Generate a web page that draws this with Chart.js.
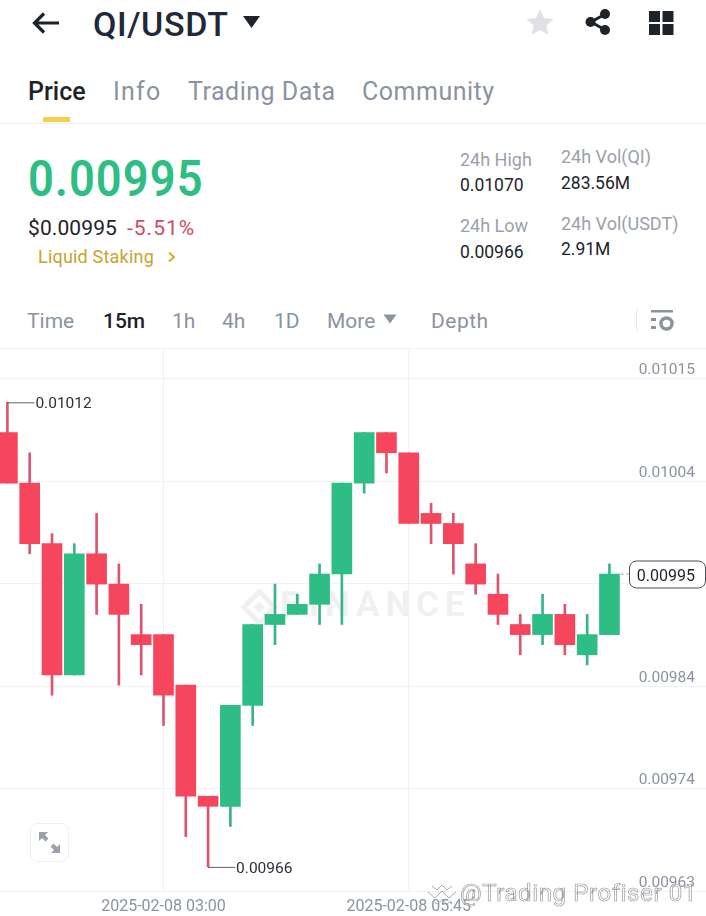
<!DOCTYPE html>
<html>
<head>
<meta charset="utf-8">
<script src="https://cdn.jsdelivr.net/npm/chart.js@4"></script>
<style>
  html, body { margin: 0; padding: 0; background: #fff; }
  body { position: relative; width: 706px; height: 916px; overflow: hidden; font-family: Roboto, sans-serif; color: #1e2329; }
  .t { position: absolute; white-space: nowrap; transform: translateY(-50%); line-height: 1; }
  .gray { color: #8a939f; letter-spacing: .5px; }
  .lab { color: #9aa1ab; font-size: 18px; }
  .val { color: #1e2329; font-size: 17.5px; }
  .tf { color: #8a939f; font-size: 21px; top: 321px; }
  .ico { position: absolute; display: block; }
  .rule { position: absolute; background: #f1f2f4; }
  #chartBox { position: absolute; left: 0; top: 349px; width: 706px; height: 567px; }
  #brand { position: absolute; left: 460px; top: 893px; transform: translateY(-50%); font-size: 24px; line-height: 1; white-space: nowrap;
           color: rgba(255,255,255,.55); -webkit-text-stroke: .7px #9a9a9a; letter-spacing: .6px; }
  #expand { position: absolute; left: 30px; top: 823px; width: 37px; height: 37px; border: 1.5px solid #eceef0; border-radius: 8px; background: #fff; }
</style>
</head>
<body>

<!-- top bar -->
<svg class="ico" style="left:30px;top:10px" width="32" height="26" viewBox="0 0 32 26"><path d="M29 13H5M14 3.5L4.5 13l9.5 9.5" fill="none" stroke="#1e2329" stroke-width="3.2"/></svg>
<div class="t" style="left:93px;top:24px;font-size:34px;font-weight:500;letter-spacing:.6px;color:#1e2a38">QI/USDT</div>
<svg class="ico" style="left:242px;top:15px" width="19" height="14"><path d="M1 1h17l-8.5 12z" fill="#1e2329"/></svg>
<svg class="ico" style="left:526px;top:8px" width="28" height="28" viewBox="0 0 28 28"><path d="M14 1l4 9 9.5 1-7 6.6 2 9.4L14 22l-8.500 5 2-9.400-7-6.600 9.500-1z" fill="#dfe1e5"/></svg>
<svg class="ico" style="left:584px;top:8px" width="28" height="28" viewBox="0 0 28 28"><path d="M20.500 6.500L7 14l13.500 7.500" fill="none" stroke="#1e2329" stroke-width="3"/><circle cx="21" cy="6" r="5" fill="#1e2329"/><circle cx="6.500" cy="14" r="5" fill="#1e2329"/><circle cx="21" cy="22" r="5" fill="#1e2329"/></svg>
<svg class="ico" style="left:649px;top:11px" width="25" height="24"><rect x="0" y="0" width="11" height="11" fill="#1e2329"/><rect x="13.500" y="0" width="11" height="11" fill="#1e2329"/><rect x="0" y="13" width="11" height="11" fill="#1e2329"/><rect x="13.500" y="13" width="11" height="11" fill="#1e2329"/></svg>

<!-- tabs -->
<div class="t" style="left:28px;top:91px;font-size:25px;font-weight:500;color:#1e2329">Price</div>
<div class="t gray" style="left:113px;top:91px;font-size:25px;letter-spacing:1.2px">Info</div>
<div class="t gray" style="left:188px;top:91px;font-size:25px">Trading Data</div>
<div class="t gray" style="left:362px;top:91px;font-size:25px">Community</div>
<div class="rule" style="left:43px;top:117px;width:27px;height:5px;background:#f6d24a"></div>
<div class="rule" style="left:0;top:123px;width:706px;height:1px"></div>

<!-- price block -->
<div class="t" style="left:28px;top:179px;font-size:50px;font-weight:600;letter-spacing:1.2px;color:#2ebd85;transform:translateY(-50%) scaleX(.905);transform-origin:left center">0.00995</div>
<div class="t" style="left:28px;top:228px;font-size:21px;letter-spacing:.1px;color:#1e2329">$0.00995</div>
<div class="t" style="left:127px;top:228px;font-size:21px;letter-spacing:1px;color:#cf4a63">-5.51%</div>
<div class="t" style="left:38px;top:257px;font-size:18px;letter-spacing:.2px;color:#c9a32c">Liquid Staking</div>
<svg class="ico" style="left:167px;top:251px" width="10" height="12"><path d="M2 1.500L7 6l-5 4.500" fill="none" stroke="#d4ad2c" stroke-width="2"/></svg>

<div class="t lab" style="left:460px;top:160px">24h High</div>
<div class="t val" style="left:460px;top:186px">0.01070</div>
<div class="t lab" style="left:561px;top:157px">24h Vol(QI)</div>
<div class="t val" style="left:561px;top:184px">283.56M</div>
<div class="t lab" style="left:460px;top:226px">24h Low</div>
<div class="t val" style="left:460px;top:253px">0.00966</div>
<div class="t lab" style="left:561px;top:224px">24h Vol(USDT)</div>
<div class="t val" style="left:561px;top:250px">2.91M</div>

<!-- timeframe row -->
<div class="t tf" style="left:27px">Time</div>
<div class="t tf" style="left:103px;color:#1e2329;font-weight:500">15m</div>
<div class="t tf" style="left:172px">1h</div>
<div class="t tf" style="left:222px">4h</div>
<div class="t tf" style="left:274px">1D</div>
<div class="t tf" style="left:327px">More</div>
<svg class="ico" style="left:383px;top:314px" width="14" height="10"><path d="M0.500 0.500h13l-6.500 9z" fill="#8a939f"/></svg>
<div class="t tf" style="left:431px;letter-spacing:.5px">Depth</div>
<div class="rule" style="left:636px;top:309px;width:1px;height:22px;background:#e6e8ea"></div>
<svg class="ico" style="left:651px;top:310px" width="23" height="22" viewBox="0 0 23 22"><rect x="0" y="0" width="22" height="2.500" fill="#8a939f"/><rect x="0" y="8" width="5" height="3" fill="#8a939f"/><rect x="0" y="16" width="5" height="3" fill="#8a939f"/><circle cx="15.500" cy="13.500" r="5.500" fill="none" stroke="#8a939f" stroke-width="3.500"/></svg>
<div class="rule" style="left:0;top:348px;width:706px;height:1px"></div>

<!-- chart -->
<div id="chartBox"><canvas id="candles" width="706" height="567"></canvas></div>

<div id="expand">
  <svg width="37" height="37" viewBox="0 0 37 37"><path d="M8 8h9l-3 3 3.500 3.500-3 3L11 14l-3 3zM29 29h-9l3-3-3.500-3.500 3-3L26 23l3-3z" fill="#9aa1ab"/></svg>
</div>

<svg class="ico" style="left:427px;top:883px" width="30" height="22" viewBox="0 0 30 22"><path d="M1 9l7 6 7-7 7 7 7-6M5 3l5 4 5-5 5 5 5-4M6 18l4 3 5-4 5 4 4-3" fill="none" stroke="#a8a8a8" stroke-width="1"/></svg>
<div id="brand">@Trading Profiser 01</div>

<script>
// 15m candles, oldest first
const times = [
  "2025-02-08 01:15", "2025-02-08 01:30", "2025-02-08 01:45", "2025-02-08 02:00",
  "2025-02-08 02:15", "2025-02-08 02:30", "2025-02-08 02:45", "2025-02-08 03:00",
  "2025-02-08 03:15", "2025-02-08 03:30", "2025-02-08 03:45", "2025-02-08 04:00",
  "2025-02-08 04:15", "2025-02-08 04:30", "2025-02-08 04:45", "2025-02-08 05:00",
  "2025-02-08 05:15", "2025-02-08 05:30", "2025-02-08 05:45", "2025-02-08 06:00",
  "2025-02-08 06:15", "2025-02-08 06:30", "2025-02-08 06:45", "2025-02-08 07:00",
  "2025-02-08 07:15", "2025-02-08 07:30", "2025-02-08 07:45", "2025-02-08 08:00"
]
const opens = [0.01009, 0.01004, 0.00998, 0.00985, 0.00997, 0.00994, 0.00989, 0.00989, 0.00984, 0.00973, 0.00972, 0.00982, 0.00990, 0.00991,
  0.00992, 0.00995, 0.01004, 0.01009, 0.01007, 0.01001, 0.01000, 0.00996, 0.00993, 0.00990, 0.00989, 0.00991, 0.00987, 0.00989]
const highs = [0.01012, 0.01007, 0.00999, 0.00998, 0.01001, 0.00996, 0.00992, 0.00989, 0.00984, 0.00973, 0.00982, 0.00990, 0.00994, 0.00993,
  0.00996, 0.01004, 0.01009, 0.01009, 0.01007, 0.01002, 0.01001, 0.00998, 0.00995, 0.00991, 0.00993, 0.00992, 0.00991, 0.00996]
const lows = [0.01004, 0.00997, 0.00983, 0.00985, 0.00991, 0.00984, 0.00985, 0.00980, 0.00969, 0.00966, 0.00970, 0.00980, 0.00988, 0.00991,
  0.00990, 0.00990, 0.01003, 0.01005, 0.01000, 0.00998, 0.00995, 0.00993, 0.00990, 0.00987, 0.00988, 0.00987, 0.00986, 0.00989]
const closes = [0.01004, 0.00998, 0.00985, 0.00997, 0.00994, 0.00991, 0.00988, 0.00983, 0.00973, 0.00972, 0.00982, 0.00990, 0.00991, 0.00992,
  0.00995, 0.01004, 0.01009, 0.01007, 0.01000, 0.01000, 0.00998, 0.00994, 0.00991, 0.00989, 0.00991, 0.00988, 0.00989, 0.00995]

const yTickValues = [0.010144, 0.010042, 0.009941, 0.009839, 0.009738, 0.009636]
const yTickLabels = ["0.01015", "0.01004", "", "0.00984", "0.00974", "0.00963"]
const xTickIndexes = [7, 18]
const lastPrice = "0.00995"

const GREEN = "#2ebd85"
const RED = "#f6465d"
const candleColor = (i) => (closes[i] >= opens[i] ? GREEN : RED)
const wickColor = (i) => (closes[i] >= opens[i] ? "#38b48a" : "#dc5470")

// high / low callouts, last price tag, faint exchange mark
const overlayPlugin = {
  id: "overlay",
  beforeDatasetsDraw(chart) {
    const { ctx, scales } = chart
    const mx = scales.x.getPixelForValue(12.24)
    const my = scales.y.getPixelForValue(0.009917)
    ctx.save()
    ctx.fillStyle = "#eff0f2"
    ctx.font = "bold 35px Roboto"
    ctx.letterSpacing = "6px"
    ctx.textBaseline = "middle"
    ctx.fillText("BINANCE", mx, my)
    ctx.letterSpacing = "0px"
    // diamond logo
    ctx.translate(mx - 21, my)
    ctx.rotate(Math.PI / 4)
    ctx.strokeStyle = "#eff0f2"
    ctx.lineWidth = 5
    ctx.strokeRect(-11, -11, 22, 22)
    ctx.fillRect(-4, -4, 8, 8)
    ctx.restore()
  },
  afterDatasetsDraw(chart) {
    const { ctx, scales } = chart
    const px = (i) => scales.x.getPixelForValue(i)
    const py = (v) => scales.y.getPixelForValue(v)
    ctx.save()
    ctx.font = "15.5px Roboto"
    ctx.textBaseline = "middle"

    const maxHigh = Math.max(...highs)
    const minLow = Math.min(...lows)
    const callouts = [
      [highs.indexOf(maxHigh), maxHigh],
      [lows.indexOf(minLow), minLow],
    ]
    callouts.forEach(([i, v]) => {
      ctx.strokeStyle = "#5c626b"
      ctx.lineWidth = 1
      ctx.beginPath()
      ctx.moveTo(px(i), py(v) + 0.5)
      ctx.lineTo(px(i) + 27, py(v) + 0.5)
      ctx.stroke()
      ctx.fillStyle = "#2b3139"
      ctx.fillText(v.toFixed(5), px(i) + 28, py(v) + 2)
    })

    // last price tag
    const lastIdx = closes.length - 1
    const ly = py(closes[lastIdx])
    ctx.strokeStyle = "#9aa1ab"
    ctx.setLineDash([3, 3])
    ctx.beginPath()
    ctx.moveTo(px(lastIdx) + 11, ly)
    ctx.lineTo(629, ly)
    ctx.stroke()
    ctx.setLineDash([])
    ctx.fillStyle = "#fff"
    ctx.strokeStyle = "#474d57"
    ctx.beginPath()
    ctx.roundRect(629.5, ly - 13, 76, 27, 7)
    ctx.fill()
    ctx.stroke()
    ctx.fillStyle = "#1e2329"
    ctx.textAlign = "right"
    ctx.font = "16px Roboto"
    ctx.fillText(lastPrice, 695, ly + 3)
    ctx.restore()
  },
}

new Chart(document.getElementById("candles"), {
  type: "bar",
  data: {
    datasets: [
      {
        // candle bodies
        data: times.map((t, i) => ({ x: i, y: [opens[i], closes[i]] })),
        backgroundColor: times.map((t, i) => candleColor(i)),
        barThickness: 20,
        order: 1,
      },
      {
        // wicks
        data: times.map((t, i) => ({ x: i, y: [lows[i], highs[i]] })),
        backgroundColor: times.map((t, i) => wickColor(i)),
        barThickness: 2,
        order: 2,
      },
    ],
  },
  options: {
    responsive: false,
    animation: false,
    devicePixelRatio: 1,
    layout: { padding: 0 },
    plugins: { legend: { display: false }, tooltip: { enabled: false } },
    datasets: { bar: { grouped: false } },
    scales: {
      x: {
        type: "linear",
        min: -0.332,
        max: 31.33,
        offset: false,
        border: { display: false },
        grid: { color: "#f0f1f3", drawTicks: false, offset: false },
        afterBuildTicks: (s) => { s.ticks = xTickIndexes.map((v) => ({ value: v })) },
        afterFit: (s) => { s.height = 25; s.paddingLeft = 0; s.paddingRight = 0 },
        ticks: {
          autoSkip: false,
          maxRotation: 0,
          padding: 6,
          color: "#8a939f",
          font: { family: "Roboto", size: 16 },
          callback: (v) => times[v],
        },
      },
      y: {
        type: "linear",
        position: "right",
        min: 0.00963614,
        max: 0.01017277,
        border: { display: false },
        grid: { color: "#f0f1f3", drawTicks: false },
        afterBuildTicks: (s) => { s.ticks = yTickValues.map((v) => ({ value: v })) },
        afterFit: (s) => { s.width = 0; s.paddingTop = 0; s.paddingBottom = 0 },
        ticks: {
          autoSkip: false,
          mirror: true,
          padding: -11,
          labelOffset: -8,
          color: "#8a939f",
          font: { family: "Roboto", size: 15.5 },
          callback: (v) => yTickLabels[yTickValues.indexOf(v)],
        },
      },
    },
  },
  plugins: [overlayPlugin],
})
</script>
</body>
</html>
